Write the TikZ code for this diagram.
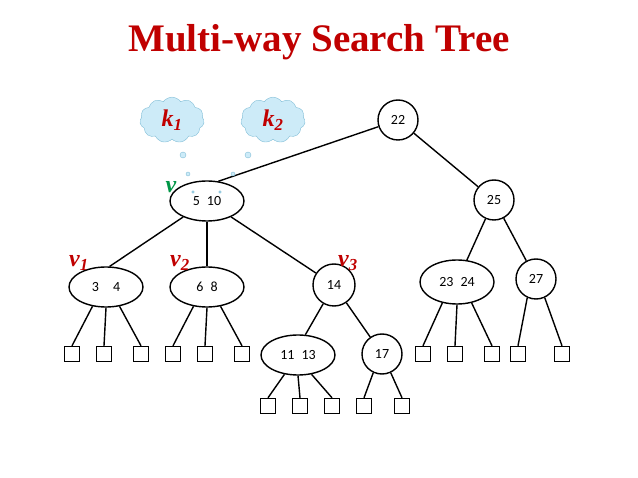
\documentclass[tikz,border=0pt]{standalone}
\usepackage{fontspec}
\setmainfont{Liberation Serif}
\setsansfont{Carlito}
\usetikzlibrary{shapes.symbols,shapes.geometric}
\definecolor{tred}{RGB}{192,0,0}
\definecolor{cloudf}{RGB}{205,235,248}
\definecolor{cloudd}{RGB}{130,190,215}
\definecolor{vgreen}{RGB}{0,150,70}
\begin{document}
\begin{tikzpicture}[x=1pt,y=-1pt,
  ov/.style={draw,line width=1.4pt,ellipse,minimum width=74pt,minimum height=40pt,inner sep=0pt,font=\sffamily\fontsize{14}{14}\selectfont},
  ci/.style={draw,line width=1.4pt,circle,minimum size=40pt,inner sep=0pt,font=\sffamily\fontsize{14}{14}\selectfont},
  lf/.style={draw,line width=1.4pt,minimum size=15pt,inner sep=0pt},
  ed/.style={line width=1.4pt},
  cl/.style={cloud,cloud puffs=11,cloud puff arc=110,aspect=1.6,draw=cloudd,fill=cloudf,minimum width=58pt,minimum height=40pt,font=\bfseries\itshape\fontsize{24}{24}\selectfont,text=tred},
  bub/.style={circle,draw=cloudd,fill=cloudf,inner sep=0pt},
  lab/.style={font=\bfseries\itshape\fontsize{24}{24}\selectfont,text=tred}]
\useasboundingbox (0,0) rectangle (638,478);
\node[font=\bfseries\fontsize{39}{39}\selectfont,text=tred] (title) at (319,42) {Multi-way Search Tree};
\node[ci] (r) at (398,120) {22};
\node[ov] (v) at (207,201) {5\enspace 10};
\node[ci] (n25) at (494,200) {25};
\node[ov] (a) at (106,287) {3\quad 4};
\node[ov] (b) at (207,287) {6\enspace 8};
\node[ci,minimum size=42pt] (c) at (334,285) {14};
\node[ov,minimum height=44pt] (d) at (457,282) {23\enspace 24};
\node[ci] (e) at (536,279) {27};
\node[ov] (f) at (298,355) {11\enspace 13};
\node[ci] (g) at (382,354) {17};
\foreach \n/\x in {l1/72,l2/104,l3/141,l4/173,l5/205,l6/242,l7/423,l8/455,l9/492,l10/518,l11/562}
  \node[lf] (\n) at (\x,354) {};
\foreach \n/\x in {m1/268,m2/300,m3/332,m4/364,m5/402}
  \node[lf] (\n) at (\x,406) {};
\draw[ed] (r) -- (v.60);
\draw[ed] (r) -- (n25);
\draw[ed] (v) -- (a.80); \draw[ed] (v) -- (b); \draw[ed] (v) -- (c);
\draw[ed] (n25) -- (d); \draw[ed] (n25) -- (e);
\draw[ed] (c) -- (f.70); \draw[ed] (c) -- (g);
\draw[ed] (a.-125) -- (l1.north); \draw[ed] (a.-90) -- (l2.north); \draw[ed] (a.-55) -- (l3.north);
\draw[ed] (b.-125) -- (l4.north); \draw[ed] (b.-90) -- (l5.north); \draw[ed] (b.-55) -- (l6.north);
\draw[ed] (d.-125) -- (l7.north); \draw[ed] (d.-90) -- (l8.north); \draw[ed] (d.-55) -- (l9.north);
\draw[ed] (e.-115) -- (l10.north); \draw[ed] (e.-65) -- (l11.north);
\draw[ed] (f.-125) -- (m1.north); \draw[ed] (f.-90) -- (m2.north); \draw[ed] (f.-55) -- (m3.north);
\draw[ed] (g.-115) -- (m4.north); \draw[ed] (g.-65) -- (m5.north);
\node[cl] (k1) at (172,120) {k\textsubscript{1}};
\node[cl] (k2) at (273,120) {k\textsubscript{2}};
\node[bub,minimum size=6pt] (b1) at (183,155) {};
\node[bub,minimum size=4pt] (b2) at (188,174) {};
\node[bub,minimum size=2.5pt] (b3) at (193,192) {};
\node[bub,minimum size=6pt] (b4) at (248,155) {};
\node[bub,minimum size=4pt] (b5) at (233,174) {};
\node[bub,minimum size=2.5pt] (b6) at (220,192) {};
\node[lab,text=vgreen] (lv) at (171,187) {v};
\node[lab] (lv1) at (79,263) {v\textsubscript{1}};
\node[lab] (lv2) at (180,263) {v\textsubscript{2}};
\node[lab] (lv3) at (348,263) {v\textsubscript{3}};
\end{tikzpicture}
\end{document}
